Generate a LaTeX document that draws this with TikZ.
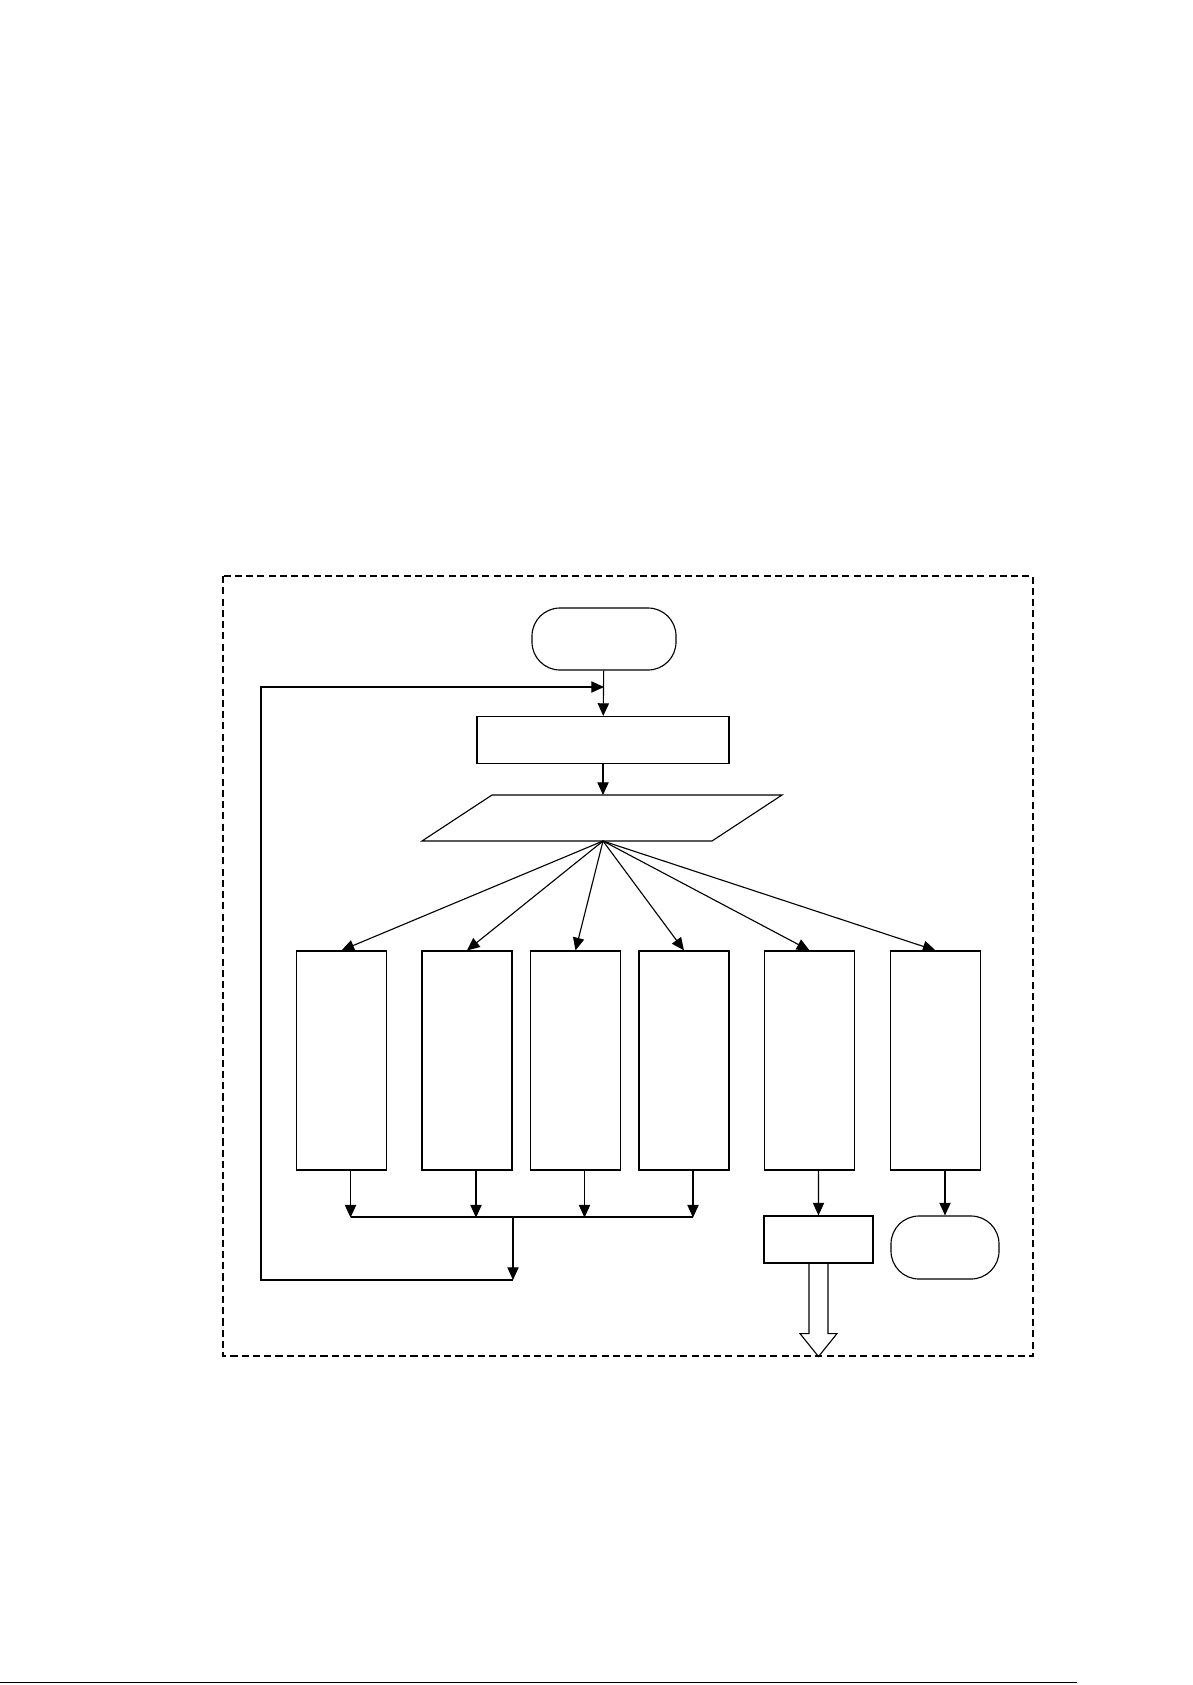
\documentclass[tikz,border=0pt]{standalone}
\usepackage{tikz}
\usetikzlibrary{arrows.meta, positioning, calc}

\begin{document}
\begin{tikzpicture}[x=0.025cm, y=-0.025cm, line width=0.8pt,
  >={Triangle[length=9pt,width=8pt]},
  term/.style={draw, rounded corners=0.7cm, minimum width=3.6cm, minimum height=1.55cm},
  proc/.style={draw, minimum width=6.3cm, minimum height=1.175cm},
  tallbox/.style={draw, minimum width=2.25cm, minimum height=5.475cm}]

  \useasboundingbox (0,0) rectangle (1192,1685);

  % frame
  \draw[dash pattern=on 5pt off 3pt, line width=1.1pt] (223,576) rectangle (1033,1356);

  % --- top part ---
  \node[term] (start) at (604,639) {};
  \node[proc] (read) at (603,740) {};

  % input parallelogram
  \draw (422,841) -- (492,795) -- (782,795) -- (712,841) -- cycle;
  \coordinate (input-n) at (603,795);
  \coordinate (input-s) at (603,841);

  \draw[->] (start) -- (read);
  \draw[->] (read) -- (input-n);

  % --- branches ---
  \foreach \x [count=\i] in {341.5,467,575.5,684,809.5,935.5}
    \node[tallbox] (b\i) at (\x,1060.5) {};

  \foreach \i in {1,...,6}
    \draw[->] (input-s) -- (b\i.north);

  \node[draw, minimum width=2.725cm, minimum height=1.175cm] (out) at (818.5,1239.5) {};
  \node[term, rounded corners=0.7cm, minimum width=2.7cm, minimum height=1.575cm] (stop) at (945,1247.5) {};

  % --- merge and loop back ---
  \coordinate (mleft) at (351,1217);
  \coordinate (mright) at (693,1217);
  \coordinate (mdown) at (513,1217);
  \coordinate (loop) at (513,1280);
  \coordinate (back) at (604,687);

  \foreach \i in {1,...,4}
    \draw[->] ([xshift=0.225cm]b\i.south) -- ++(0,47);
  \draw (mleft) -- (mright);
  \draw[->] (mdown) -- (loop);
  \draw[->] (loop) -- (261,1280) -- (261,687) -- (back);

  \draw[->] ([xshift=0.225cm]b5.south) -- (out.north);
  \draw[->] (b6.south -| stop.north) -- (stop.north);

  % hollow arrow out of the frame
  \draw ($(out.south)+(-9.5,0)$) -- ++(0,70) -- ++(-9,0) -- ($(out.south)+(0,93)$)
    -- ++(18.5,-23) -- ++(-9,0) -- ++(0,-70);

  % page rule
  \draw[line width=0.6pt] (0,1682) -- (1077,1682);

\end{tikzpicture}
\end{document}
